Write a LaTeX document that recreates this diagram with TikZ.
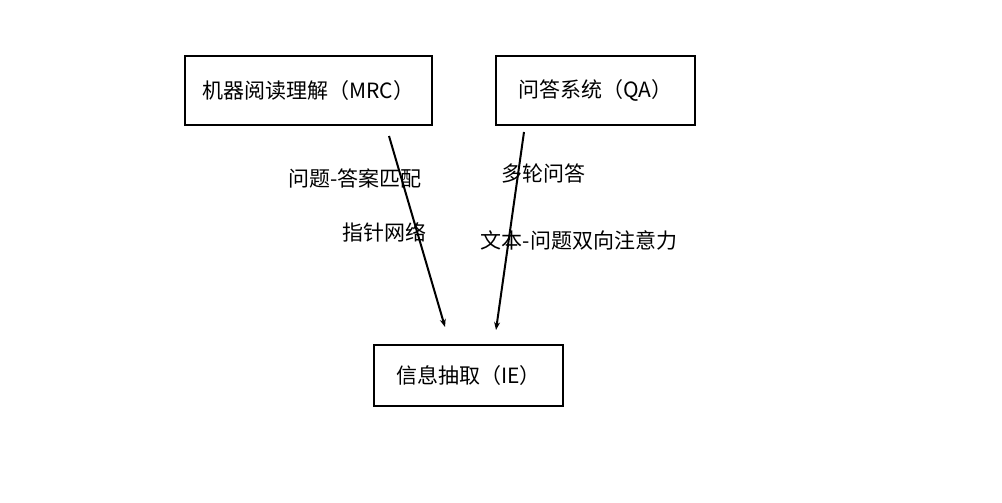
\documentclass[tikz,border=0pt]{standalone}
\usepackage{fontspec}
\usetikzlibrary{arrows.meta}
\setmainfont{Noto Sans CJK SC}
\begin{document}
\begin{tikzpicture}[x=1pt,y=-1pt,
  box/.style={draw,line width=2.5pt,minimum height=69pt,inner sep=0pt},
  lbl/.style={font=\fontsize{21}{24}\selectfont,inner sep=0pt},
  arr/.style={line width=2pt,-{Stealth[length=8pt,width=6pt]}}]
\useasboundingbox (0,0) rectangle (1002,503);
\node[box,minimum width=247pt,font=\fontsize{21}{24}\selectfont] (mrc) at (308.5,90.5) {机器阅读理解（MRC）};
\node[box,minimum width=199pt,font=\fontsize{21}{24}\selectfont] (qa) at (595.5,90.5) {问答系统（QA）};
\node[box,minimum width=189pt,minimum height=61pt,font=\fontsize{21}{24}\selectfont] (ie) at (468.5,375.5) {信息抽取（IE）};
\coordinate (a1) at (389,136); \coordinate (a2) at (445,327);
\coordinate (b1) at (524,132); \coordinate (b2) at (496,330);
\draw[arr] (a1) -- (a2);
\draw[arr] (b1) -- (b2);
\node[lbl] (l1) at (355,178) {问题-答案匹配};
\node[lbl] (l2) at (384,232) {指针网络};
\node[lbl] (l3) at (543,173) {多轮问答};
\node[lbl] (l4) at (579,240) {文本-问题双向注意力};
\end{tikzpicture}
\end{document}
